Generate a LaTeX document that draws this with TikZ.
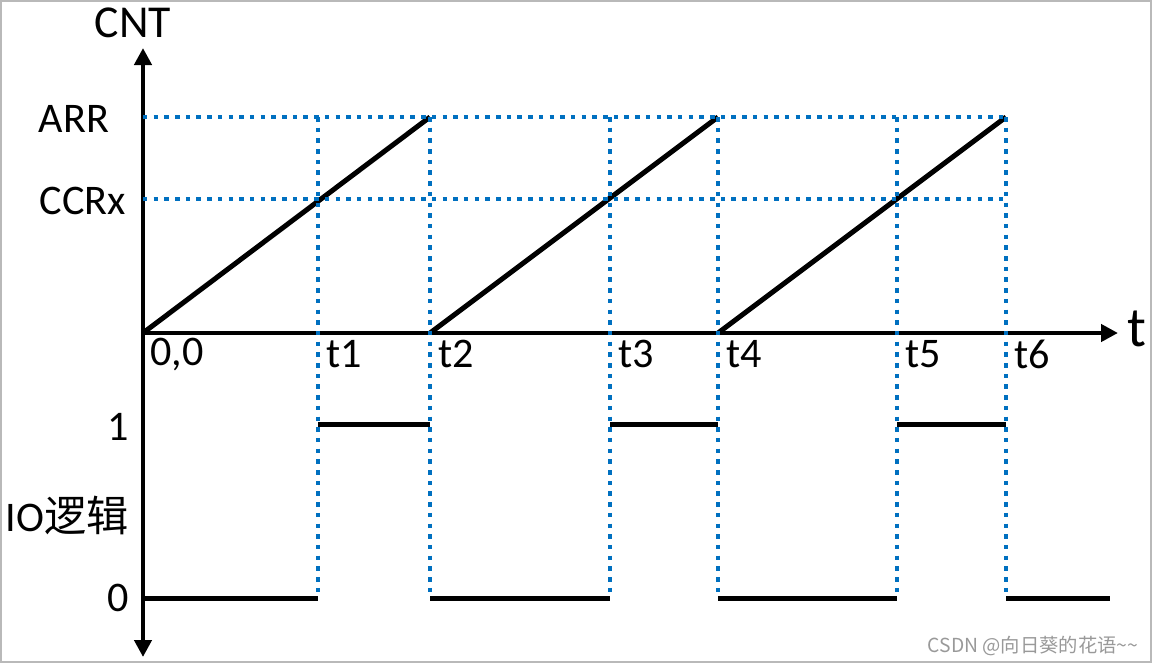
\documentclass[tikz,border=0pt]{standalone}
\usepackage{fontspec}
\setmainfont{Carlito}
\newfontfamily\cjk{Noto Sans CJK SC}
\usetikzlibrary{arrows.meta}
\definecolor{pontkek}{RGB}{0,112,192}

\begin{document}
\begin{tikzpicture}[x=1cm, y=1cm]
        \tikzset{
                tengely/.style={line width=0.045cm, -{Triangle[width=0.17cm, length=0.17cm]}},
                jel/.style={line width=0.05cm},
                pontozott/.style={pontkek, line width=0.045cm, dash pattern=on 0.045cm off 0.062cm},
                felirat/.style={font=\fontsize{12}{14}\selectfont, inner sep=1pt}
            }
        \useasboundingbox (0,0) rectangle (11.54,6.66);
        \draw[gray!55, line width=0.015cm] (0.0075,0.04) rectangle (11.51,6.6525);

        \pgfmathsetmacro{\nulla}{3.33}
        \pgfmathsetmacro{\arrY}{5.49}
        \pgfmathsetmacro{\ccrY}{4.67}
        \pgfmathsetmacro{\egyY}{2.42}
        \pgfmathsetmacro{\nullY}{0.68}

        \coordinate (O) at (1.43, \nulla);
        \coordinate (Ytop) at (1.43, 6.18);
        \coordinate (Ybot) at (1.43, 0.09);
        \coordinate (Xend) at (11.18, \nulla);

        % tengelyek
        \draw[tengely] (O) -- (Ytop);
        \draw[tengely] (O) -- (Ybot);
        \draw[tengely] (O) -- (Xend);

        % fureszfog
        \foreach \s/\e in {1.43/4.30, 4.30/7.18, 7.18/10.06} {
                \draw[jel] (\s, \nulla) -- (\e, \arrY);
            }
        % IO jel
        \foreach \s/\e in {1.43/3.18, 4.30/6.10, 7.18/8.97, 10.06/11.10} {
                \draw[jel] (\s, \nullY) -- (\e, \nullY);
            }
        \foreach \s/\e in {3.18/4.30, 6.10/7.18, 8.97/10.06} {
                \draw[jel] (\s, \egyY) -- (\e, \egyY);
            }

        % segedvonalak
        \draw[pontozott] (1.43, \arrY) -- (10.06, \arrY);
        \draw[pontozott] (1.43, \ccrY) -- (10.06, \ccrY);
        \foreach \t/\n in {3.18/1, 4.30/2, 6.10/3, 7.18/4, 8.97/5, 10.06/6} {
                \draw[pontozott] (\t, \arrY) -- (\t, \nullY);
                \node[felirat, anchor=west] (t\n) at ({\t + 0.04}, 3.12) {t\n};
            }

        % feliratok
        \node[font=\fontsize{13}{15}\selectfont] (cnt) at (1.33, 6.43) {CNT};
        \node[font=\fontsize{16}{18}\selectfont] (tlab) at (11.37, 3.37) {t};
        \node[felirat] (arr) at (0.74, 5.47) {ARR};
        \node[felirat] (ccr) at (0.83, 4.65) {CCRx};
        \node[felirat] (nn) at (1.77, 3.11) {0,0};
        \node[felirat] (egy) at (1.18, 2.39) {1};
        \node[felirat] (nul) at (1.18, 0.68) {0};
        \node[felirat] (io) at (0.67, 1.51) {IO{\cjk 逻辑}};
        \node[gray!80, font=\cjk\fontsize{5.5}{6}\selectfont] (wm) at (10.33, 0.20) {CSDN @向日葵的花语\textasciitilde\textasciitilde};
    \end{tikzpicture}
\end{document}
